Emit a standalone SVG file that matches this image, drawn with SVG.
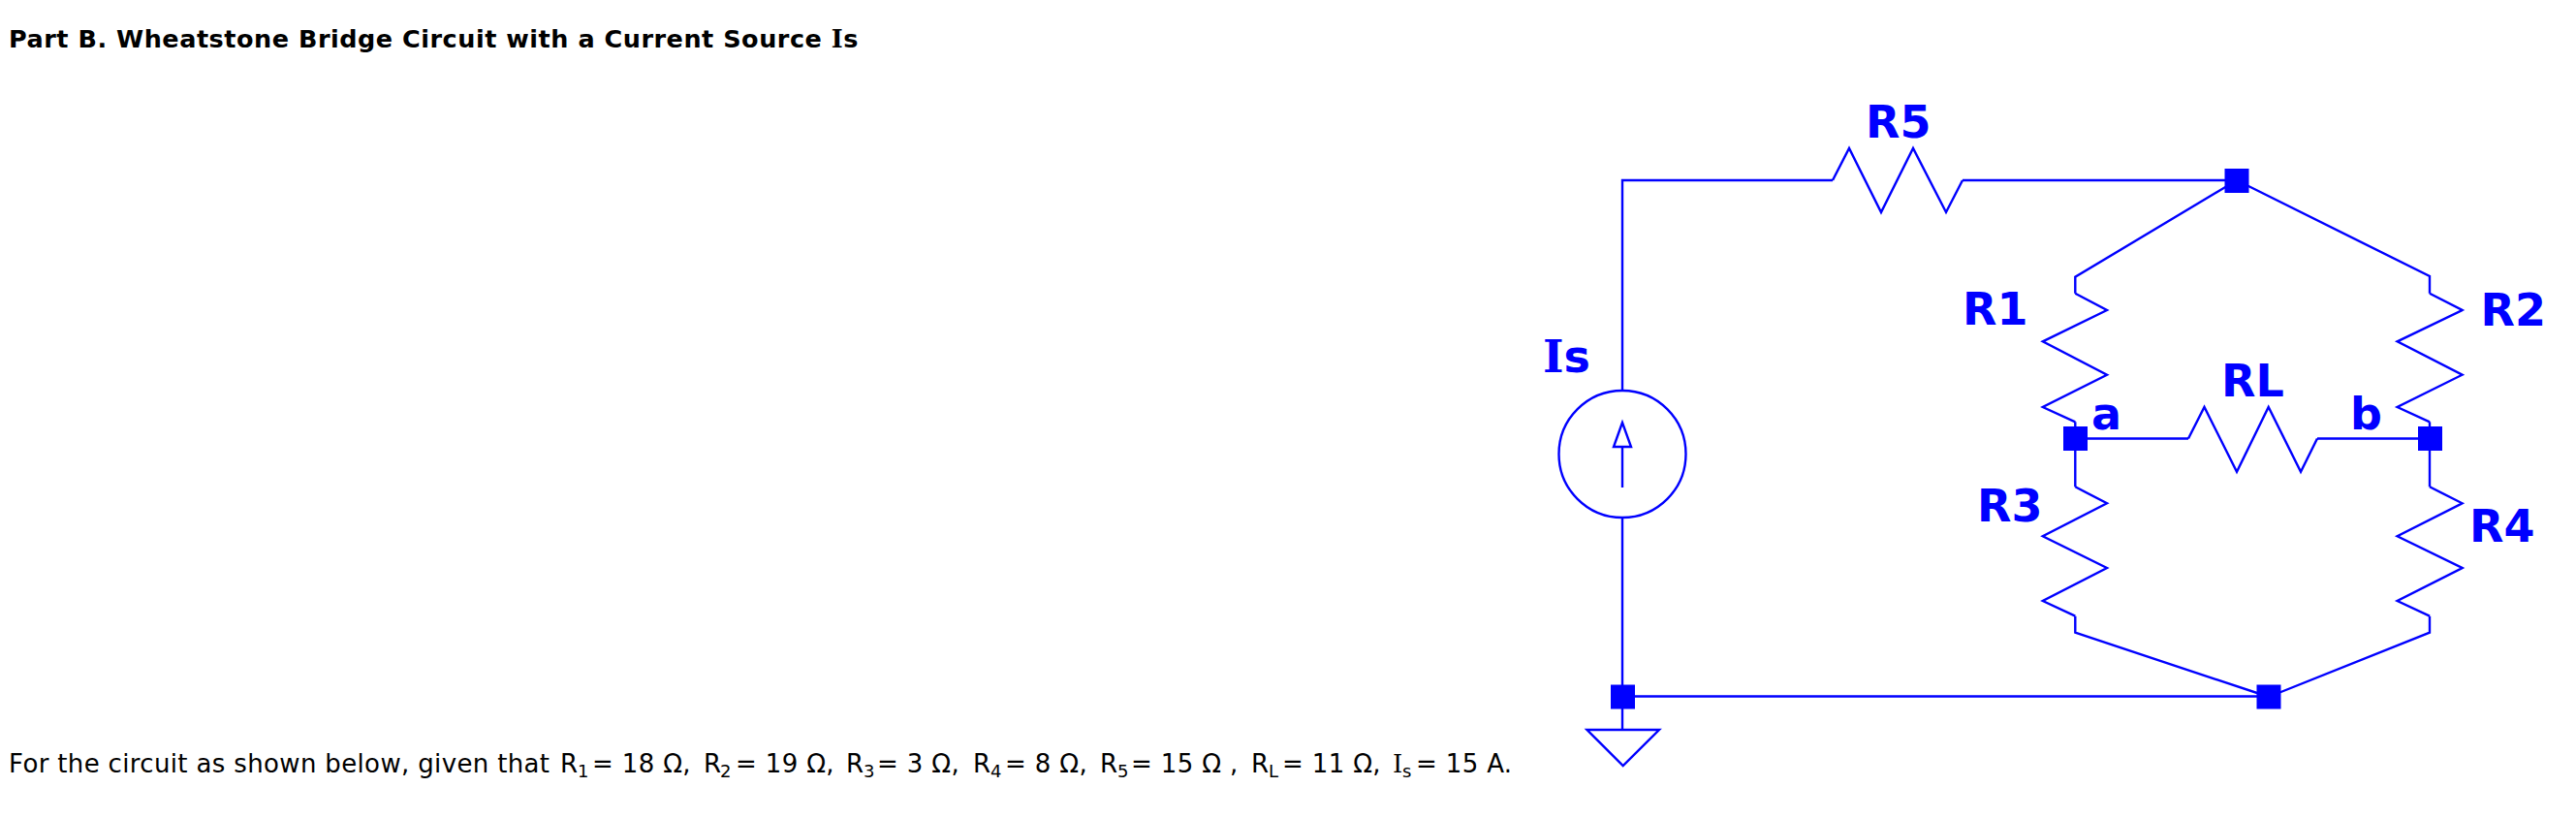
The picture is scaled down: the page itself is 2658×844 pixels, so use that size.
<svg xmlns="http://www.w3.org/2000/svg" width="2658" height="844" viewBox="0 0 2658 844">
<style>
.w{fill:none;stroke:#0000ff;stroke-width:2.4;stroke-linejoin:miter}
.j{fill:#0000ff}
.l{font-family:"DejaVu Sans",Verdana,sans-serif;font-weight:bold;font-size:46px;fill:#0000ff}
.t{font-family:"DejaVu Sans",Verdana,sans-serif;font-size:26px;letter-spacing:.35px;fill:#000}
.h{font-family:"DejaVu Sans",Verdana,sans-serif;font-weight:bold;font-size:25.5px;letter-spacing:.52px;fill:#000}
.s{font-size:18px}
.i{font-family:"DejaVu Serif",serif}
</style>
<rect width="2658" height="844" fill="#fff"/>
<text id="title" class="h" x="9" y="49">Part B. Wheatstone Bridge Circuit with a Current Source <tspan class="i">I</tspan>s</text>
<text id="given" class="t" x="9" y="797">For the circuit as shown below, given that <tspan x="578">R</tspan><tspan class="s" x="596" dy="5">1</tspan><tspan x="611" dy="-5">= 18 Ω, </tspan><tspan x="726">R</tspan><tspan class="s" x="743" dy="5">2</tspan><tspan x="759" dy="-5">= 19 Ω, </tspan><tspan x="873">R</tspan><tspan class="s" x="891" dy="5">3</tspan><tspan x="905" dy="-5">= 3 Ω, </tspan><tspan x="1004">R</tspan><tspan class="s" x="1022" dy="5">4</tspan><tspan x="1037" dy="-5">= 8 Ω, </tspan><tspan x="1135">R</tspan><tspan class="s" x="1153" dy="5">5</tspan><tspan x="1167" dy="-5">= 15 Ω , </tspan><tspan x="1291">R</tspan><tspan class="s" x="1309" dy="5">L</tspan><tspan x="1323" dy="-5">= 11 Ω, </tspan><tspan class="i" x="1437">I</tspan><tspan class="s" x="1447" dy="5">s</tspan><tspan x="1461" dy="-5">= 15 A.</tspan></text>
<g id="connectors">
<path class="w" d="M1674 403V186H1891"/>
<path class="w" d="M2025 186H2308"/>
<path class="w" d="M2308 186L2141.3 285.7V302.7"/>
<path class="w" d="M2308 186L2507 285V302.7"/>
<path class="w" d="M2141.3 435.3V502.3"/>
<path class="w" d="M2507 435.3V502.3"/>
<path class="w" d="M2141.3 452.5H2258"/>
<path class="w" d="M2391 452.5H2507"/>
<path class="w" d="M2141.3 635.7V652.7L2341 719"/>
<path class="w" d="M2507 635.7V652.7L2341 719"/>
<path class="w" d="M1674 534V753"/>
<path class="w" d="M1674 718.5H2341"/>
</g>
<g id="R5"><path class="w" d="M1891 186L1908 153L1941 219L1974 153L2008 219L2025 186"/><text class="l" x="1925" y="142">R5</text></g>
<g id="R1"><path class="w" d="M2141.3 302.7L2174 320L2107.8 352.3L2174 386.7L2107.8 420L2141.3 435.3"/><text class="l" x="2025" y="335">R1</text></g>
<g id="R2"><path class="w" d="M2507 302.7L2540.6 320L2473.6 352.3L2540.6 386.7L2473.6 420L2507 435.3"/><text class="l" x="2559.5" y="336">R2</text></g>
<g id="R3"><path class="w" d="M2141.3 502.3L2174 519.3L2107.8 553.3L2174 586L2107.8 620L2141.3 635.7"/><text class="l" x="2040" y="538">R3</text></g>
<g id="R4"><path class="w" d="M2507 502.3L2540.6 519.3L2473.6 553.3L2540.6 586L2473.6 620L2507 635.7"/><text class="l" x="2548" y="559">R4</text></g>
<g id="RL"><path class="w" d="M2258 452.5L2274.5 420L2308 486.7L2340.7 420L2374 486.7L2391 452.5"/><text class="l" x="2292" y="409">RL</text></g>
<g id="Is"><circle class="w" cx="1674" cy="468.5" r="65.5"/><path class="w" d="M1674 503V461"/><path class="w" d="M1674 436L1665 461H1683Z"/><text class="l" x="1592" y="384"><tspan class="i">I</tspan>s</text></g>
<g id="node-top"><rect class="j" x="2295.5" y="174" width="25" height="25"/></g>
<g id="node-a"><rect class="j" x="2129" y="440" width="25" height="25"/><text class="l" x="2158" y="443">a</text></g>
<g id="node-b"><rect class="j" x="2495" y="440" width="25" height="25"/><text class="l" x="2425" y="443">b</text></g>
<g id="node-bottom"><rect class="j" x="2328.5" y="706.5" width="25" height="25"/></g>
<g id="node-gnd"><rect class="j" x="1662" y="706.5" width="25" height="25"/></g>
<g id="ground"><path class="w" d="M1637.5 753H1712L1674.7 790Z"/></g>
</svg>
